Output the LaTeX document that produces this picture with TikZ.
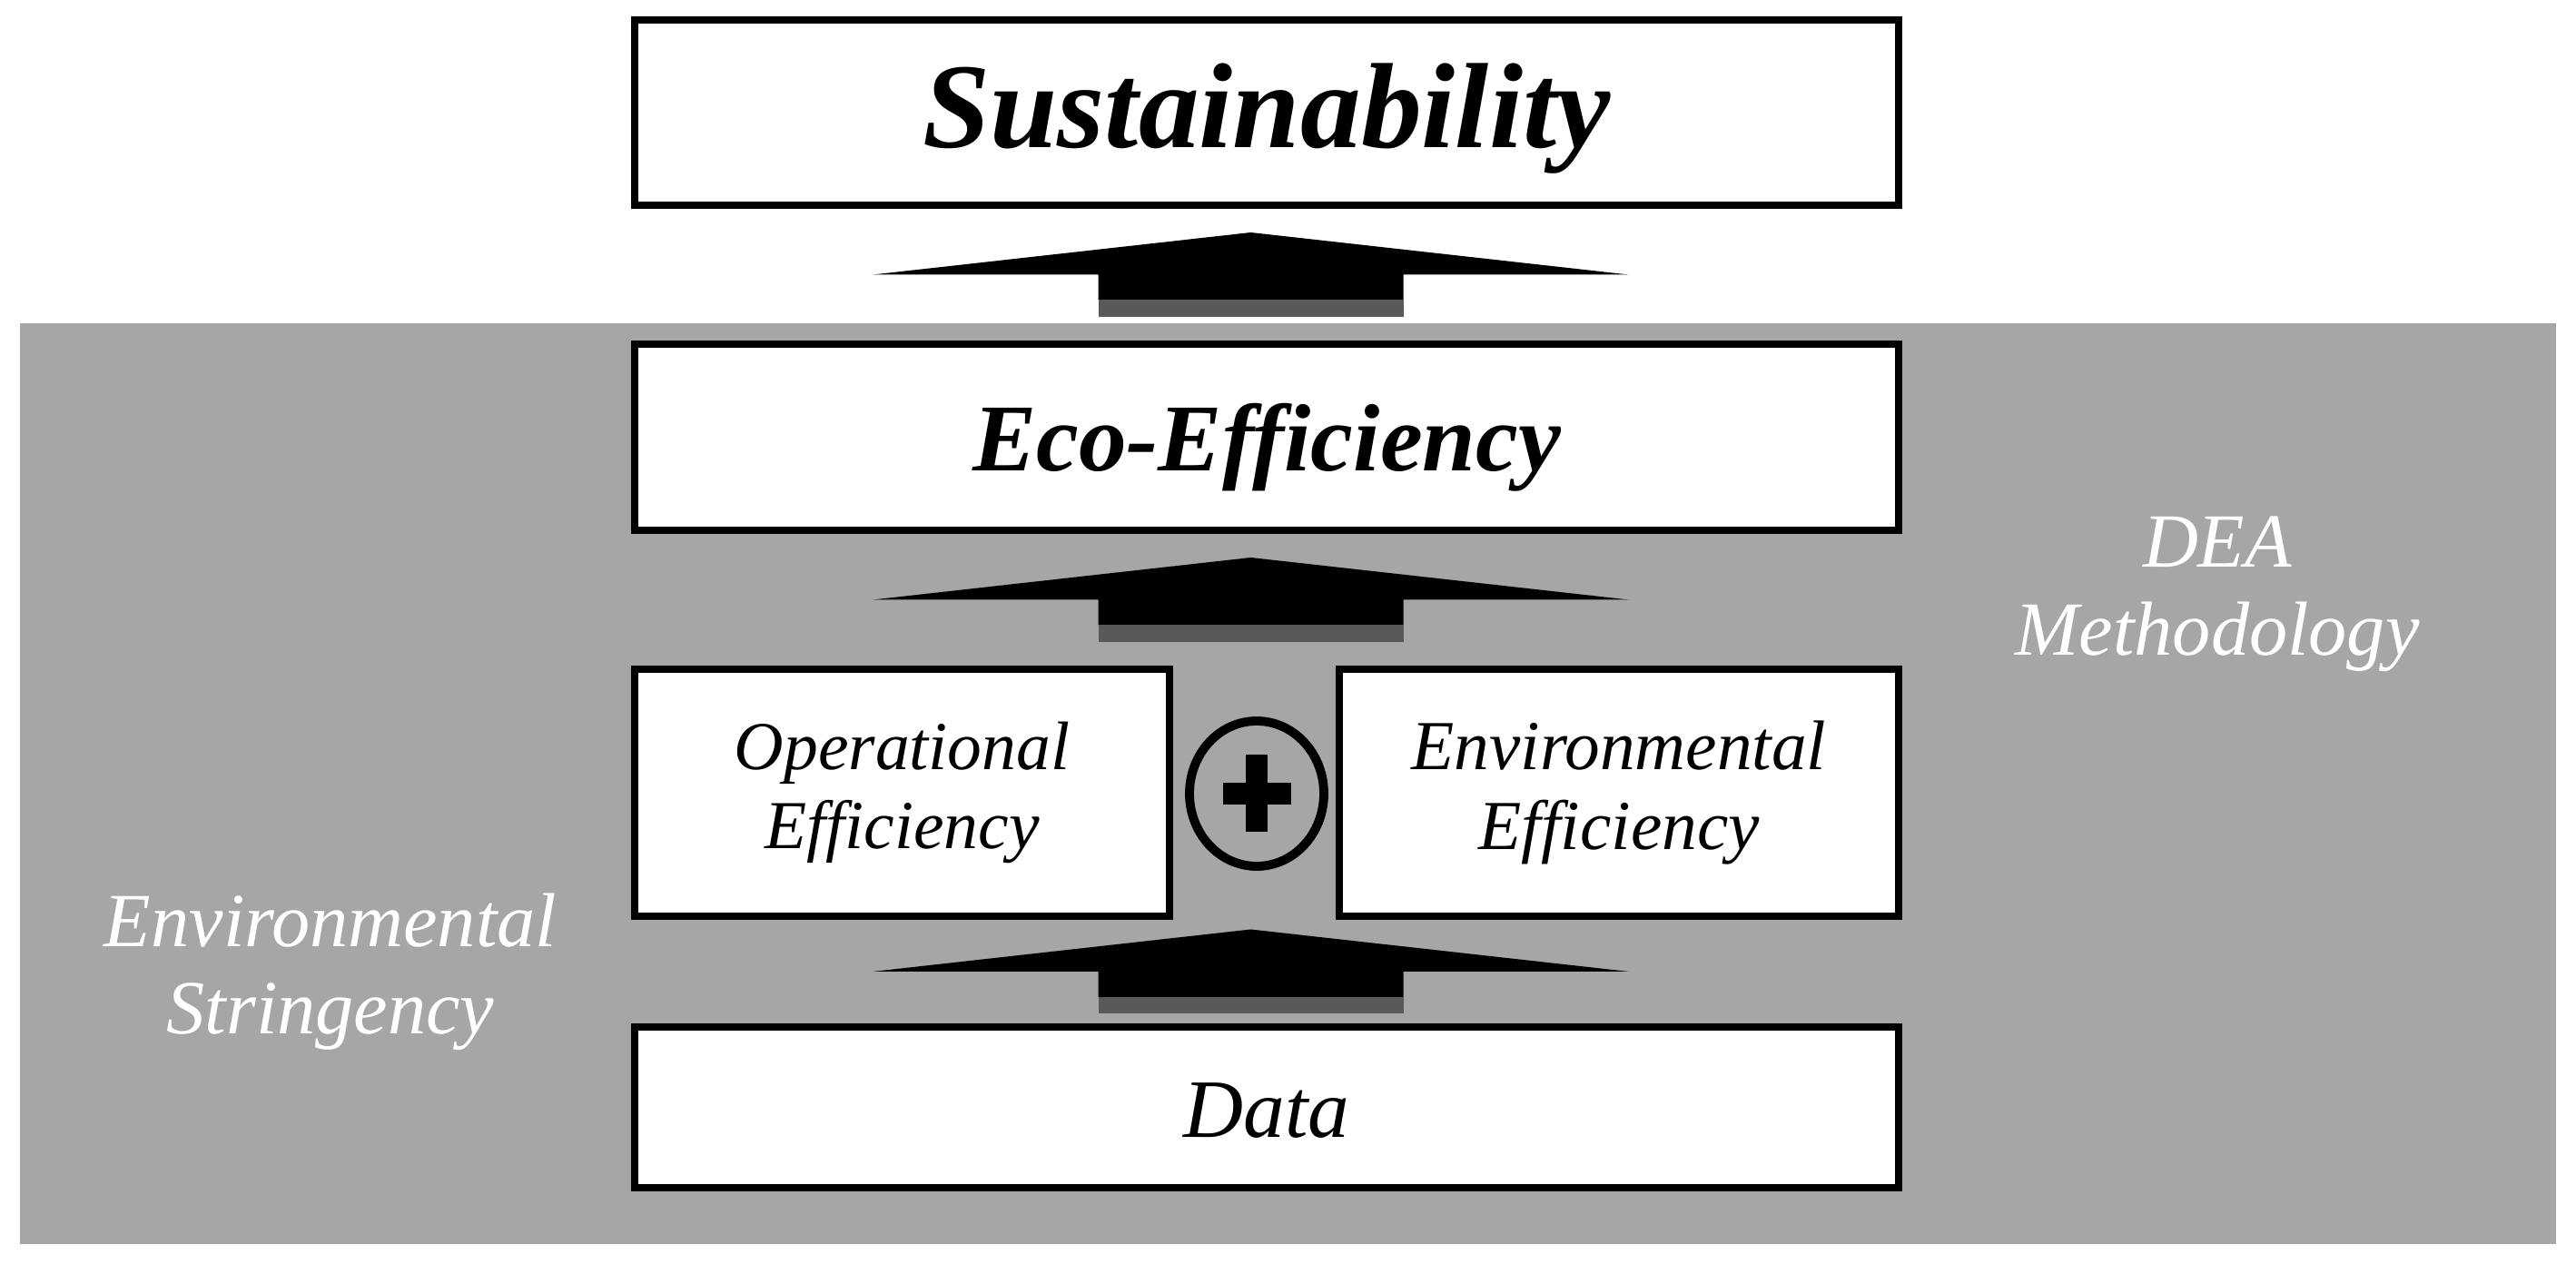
\documentclass[tikz,border=0pt]{standalone}
\usepackage{fontspec}
\setmainfont{Liberation Serif}
\usetikzlibrary{calc,positioning,shapes.geometric}
\definecolor{backgray}{gray}{0.65}
\definecolor{shaftgray}{gray}{0.35}
\tikzset{box/.style={draw, fill=white, line width=2.2pt, inner sep=0pt, align=center}}
\tikzset{oneline/.style={text height=#1, text depth=0pt}}
\tikzset{side/.style={text=white, align=center, font=\itshape\fontsize{24}{27.5}\selectfont}}
\newcommand\blockarr[2]{
		\coordinate (gap-#1#2) at ($(#1.north)!0.5!(#2.south)$);
		\coordinate (m-#1#2) at (gap-#1#2 -| axis);
		\fill ($(m-#1#2)+(-4.165,0)$) -- ++(4.165,0.465) -- ++(4.165,-0.465) -- ++(-2.485,0)
			-- ++(0,-0.28) -- ++(-3.36,0) -- ++(0,0.28) -- cycle;
		\fill[shaftgray] ($(m-#1#2)+(-1.68,-0.28)$) rectangle ++(3.36,-0.185);
	}

\begin{document}
\begin{tikzpicture}
		\useasboundingbox (0,0) rectangle (28.37,13.91);
		\fill[backgray] (0.22,0.21) rectangle (28.15,10.35);
		\coordinate (axis) at (13.775,0);
		
		\node[box, oneline=0.78cm, minimum width=13.92cm, minimum height=2.04cm, font=\bfseries\itshape\fontsize{38}{44}\selectfont] (sust) at (13.95,12.67) {Sustainability};
		\node[box, oneline=0.74cm, minimum width=13.92cm, minimum height=2.05cm, font=\bfseries\itshape\fontsize{30}{36}\selectfont] (eco) at (13.95,9.095) {Eco-Efficiency};
		\node[box, minimum width=5.89cm, minimum height=2.72cm, font=\itshape\fontsize{21.5}{25}\selectfont] (ops) at (9.935,5.18) {Operational\\Efficiency};
		\node[box, minimum width=6.16cm, minimum height=2.72cm, font=\itshape\fontsize{22}{25}\selectfont] (env) at (17.83,5.18) {Environmental\\Efficiency};
		\node[box, oneline=0.66cm, minimum width=13.92cm, minimum height=1.77cm, font=\itshape\fontsize{26}{30}\selectfont] (data) at (13.95,1.715) {Data};
		
		% the plus between the two efficiencies
		\node[ellipse, draw, line width=2.8pt, minimum width=1.48cm, minimum height=1.6cm] (plus) at (13.84,5.17) {};
		\draw[line width=0.24cm] ($(plus.center)+(-0.375,0)$) -- ($(plus.center)+(0.375,0)$);
		\draw[line width=0.24cm] ($(plus.center)+(0,-0.425)$) -- ($(plus.center)+(0,0.425)$);
		
		\blockarr{eco}{sust}
		\blockarr{ops}{eco}
		\blockarr{data}{ops}
		
		\node[side] (dea) at (24.42,7.365) {DEA\\Methodology};
		\node[side] (string) at (3.64,3.205) {Environmental\\Stringency};
	\end{tikzpicture}
\end{document}
